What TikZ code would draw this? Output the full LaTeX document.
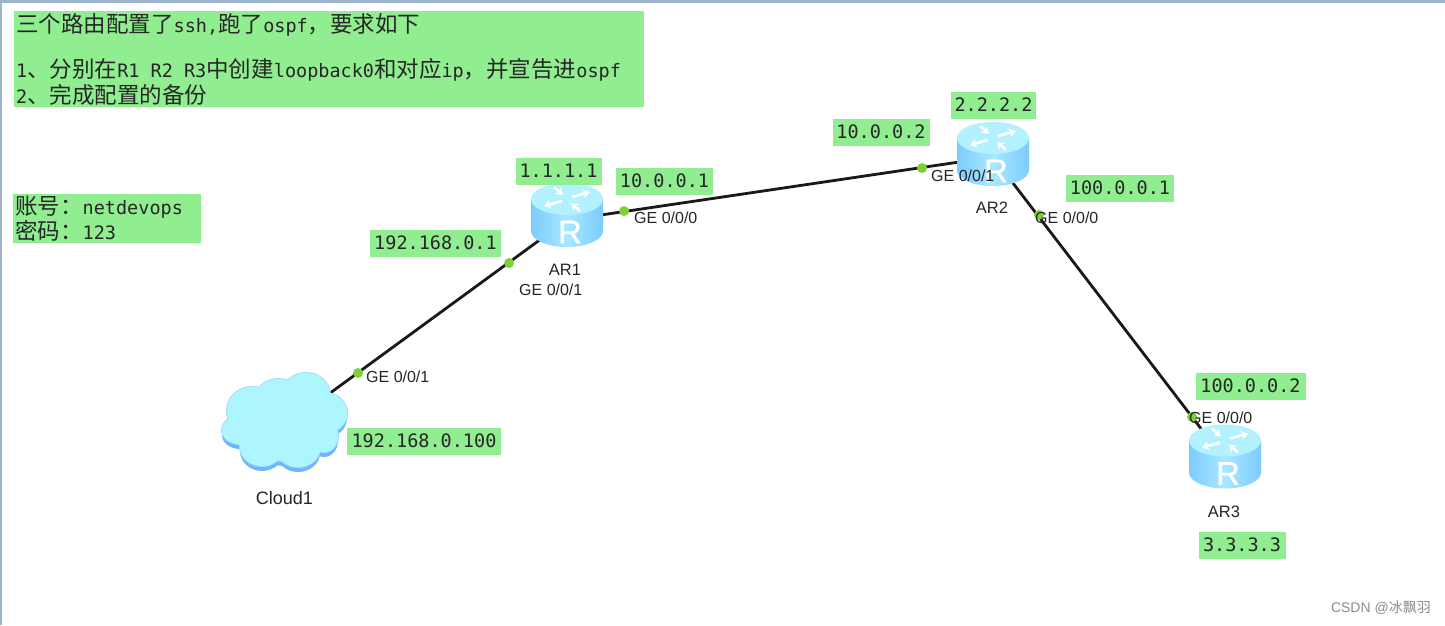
\documentclass[tikz,border=0pt]{standalone}
\usepackage{fontspec}
\setmainfont{Liberation Sans}
\setmonofont{DejaVu Sans Mono}
\newfontfamily\cjk{Noto Sans CJK SC}
\newfontfamily\rfont[FakeBold=0.8]{Liberation Sans}
\usetikzlibrary{arrows.meta}
\newcommand{\cn}[1]{{\fontsize{22.5}{23.5}\selectfont\cjk #1}}
\newcommand{\fwcomma}{\cn{\char"FF0C}}
\newcommand{\fwcolon}{\cn{\char"FF1A}}
\definecolor{tagGreen}{HTML}{90EE90}
\definecolor{dotGreen}{HTML}{7FCF37}
\definecolor{rimBlue}{HTML}{9DB4CC}
\definecolor{rtEdge}{HTML}{7CCBFF}
\definecolor{rtMid}{HTML}{A8E8FF}
\definecolor{rtTop}{HTML}{B4F1FF}
\definecolor{cloudTop}{HTML}{AEF6FF}
\definecolor{cloudLow}{HTML}{6FB6FF}
\definecolor{cloudRim}{HTML}{A4DCFF}
\tikzset{
  tagbox/.style={fill=tagGreen,inner sep=0pt,font=\fontsize{18.5}{20}\ttfamily,text=black!85},
  notebox/.style={tagbox,anchor=north west,inner xsep=2pt,inner ysep=0pt,align=left,
    font=\fontsize{18.5}{23.5}\ttfamily},
  portlabel/.style={font=\fontsize{16}{18}\selectfont,inner sep=0pt,anchor=west,text=black!85},
  devlabel/.style={font=\fontsize{16.5}{18}\selectfont,inner sep=0pt,text=black!85},
  dotmark/.style={circle,fill=dotGreen,minimum size=10pt,inner sep=0pt},
  anchorpt/.style={inner sep=0pt,minimum size=1pt},
  linkline/.style={draw=black!90,line width=2.8pt},
  routericon/.pic={
    \path[left color=rtEdge,right color=rtEdge,middle color=rtMid]
      (-36,-16) -- (-36,16) arc[start angle=180,end angle=0,x radius=36,y radius=16]
      -- (36,-16) -- cycle;
    \fill[rtTop] (0,-16) ellipse[x radius=36,y radius=16];
    \foreach \a/\b/\c/\d in {-5/-14/-23/-9, 5/-18/23/-23, -13/-28/-4/-20, 13/-4/4/-12}{
      \draw[white,line width=2.6pt,-{Stealth[length=7pt,width=9pt]}] (\a,\b) -- (\c,\d);
    }
    \node[white,inner sep=0pt,font=\fontsize{33}{33}\rfont] at (3,17) {R};
  }
}
\newcommand{\cloudshape}{
  (285,425) ellipse[x radius=38,y radius=36]
  (252,411) ellipse[x radius=25,y radius=24]
  (278,398) ellipse[x radius=22,y radius=19]
  (306,395) ellipse[x radius=24,y radius=22]
  (325,413) ellipse[x radius=22,y radius=20]
  (324,436) ellipse[x radius=14,y radius=16]
  (240,430) ellipse[x radius=18,y radius=14]
  (262,446) ellipse[x radius=22,y radius=20]
  (298,448) ellipse[x radius=22,y radius=19]
}
\AtBeginDocument{\lineskiplimit=-30pt\relax}
\begin{document}
\begin{tikzpicture}[x=1pt,y=-1pt]
\useasboundingbox (0,0) rectangle (1445,625);
\fill[white] (0,0) rectangle (1445,625);
\fill[rimBlue] (0,0) rectangle (1445,2.5);
\fill[rimBlue] (0,0) rectangle (1.5,625);

\node[anchorpt] (cloud) at (285,426) {};
\node[anchorpt] (ar1) at (567,220) {};
\node[anchorpt] (ar2) at (993,157) {};
\node[anchorpt] (ar3) at (1225,460) {};

\draw[linkline] (cloud.center) -- (ar1.center);
\draw[linkline] (ar1.center) -- (ar2.center);
\draw[linkline] (ar2.center) -- (ar3.center);

\fill[cloudLow,yshift=-5pt] \cloudshape;
\fill[cloudRim,draw=cloudRim,line width=2pt] \cloudshape;
\fill[cloudTop] \cloudshape;
\pic at (567,215) {routericon};
\pic at (993,154) {routericon};
\pic at (1225,456.5) {routericon};

\node[dotmark] (d1) at (358,373) {};
\node[dotmark] (d2) at (509,263) {};
\node[dotmark] (d3) at (624,211) {};
\node[dotmark] (d4) at (922,168) {};
\node[dotmark] (d5) at (1039,215) {};
\node[dotmark] (d6) at (1192,417) {};

\node[portlabel] (p1) at (366,377) {GE 0/0/1};
\node[portlabel] (p2) at (519,290) {GE 0/0/1};
\node[portlabel] (p3) at (634,218) {GE 0/0/0};
\node[portlabel] (p4) at (931,176) {GE 0/0/1};
\node[portlabel] (p5) at (1035,218) {GE 0/0/0};
\node[portlabel] (p6) at (1189,418) {GE 0/0/0};

\node[devlabel] (n1) at (565,270) {AR1};
\node[devlabel] (n2) at (992,208) {AR2};
\node[devlabel] (n3) at (1224,512) {AR3};
\node[devlabel,font=\fontsize{18}{20}\selectfont] (n4) at (284.5,498) {Cloud1};

\node[tagbox,minimum width=86pt,minimum height=27pt] (t1) at (558.5,171) {1.1.1.1};
\node[tagbox,minimum width=97pt,minimum height=27pt] (t2) at (664.5,181) {10.0.0.1};
\node[tagbox,minimum width=97pt,minimum height=27pt] (t3) at (881,132) {10.0.0.2};
\node[tagbox,minimum width=85pt,minimum height=27pt] (t4) at (993.5,105) {2.2.2.2};
\node[tagbox,minimum width=108pt,minimum height=27pt] (t5) at (1120,188) {100.0.0.1};
\node[tagbox,minimum width=110pt,minimum height=27pt] (t6) at (1250.5,386) {100.0.0.2};
\node[tagbox,minimum width=87pt,minimum height=27pt] (t7) at (1242,545) {3.3.3.3};
\node[tagbox,minimum width=131pt,minimum height=27pt] (t8) at (435.5,243) {192.168.0.1};
\node[tagbox,minimum width=154pt,minimum height=27pt] (t9) at (424,441) {192.168.0.100};

\node[notebox,minimum width=630pt,minimum height=96pt,text width=626pt] (t10) at (14,11) {%
  \cn{三个路由配置了}ssh,\cn{跑了}ospf\fwcomma\cn{要求如下}\\
  \strut\\[-5pt]
  1\cn{、分别在}R1\hspace{11.1pt}R2\hspace{11.1pt}R3\cn{中创建}loopback0\cn{和对应}ip\fwcomma\cn{并宣告进}ospf\\[2pt]
  2\cn{、完成配置的备份}};

\node[notebox,minimum width=188pt,minimum height=49pt,text width=184pt] (t11) at (13,194) {%
  \cn{账号}\fwcolon netdevops\\[1pt]
  \cn{密码}\fwcolon 123};

\node[inner sep=0pt,anchor=east,text=black!45,font=\fontsize{14}{16}\selectfont] (wm) at (1431,608)
  {CSDN @{\cjk 冰飘羽}};
\end{tikzpicture}
\end{document}
